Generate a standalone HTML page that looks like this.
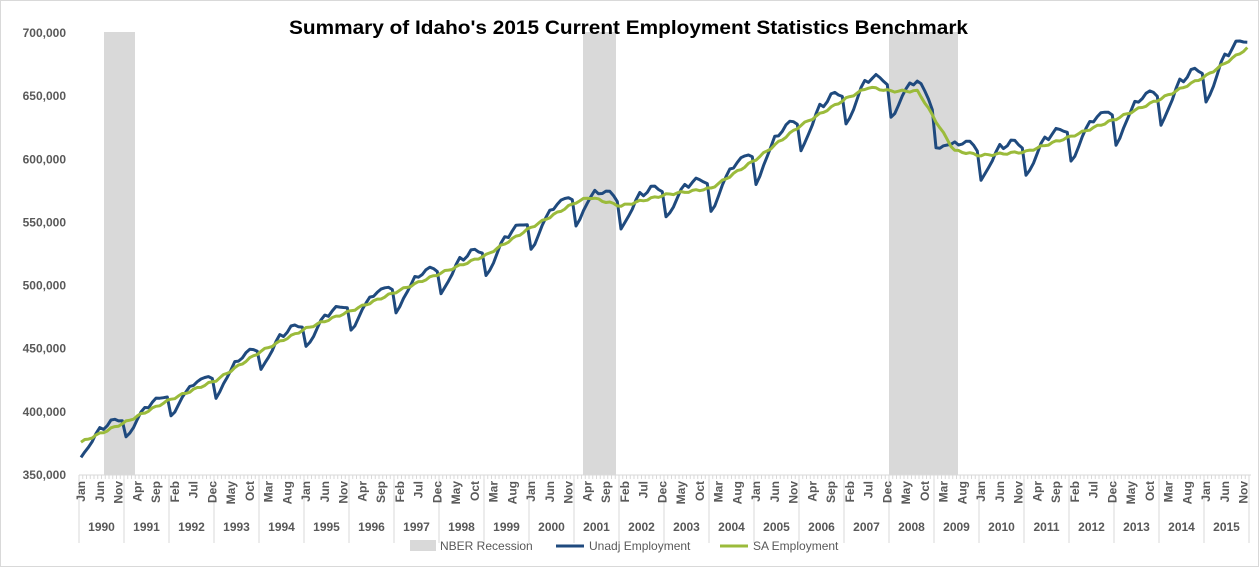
<!DOCTYPE html>
<html><head><meta charset="utf-8"><style>
html,body{margin:0;padding:0;background:#fff;}
svg{display:block;font-family:"Liberation Sans",Arial,sans-serif;}
</style></head><body>
<svg id="c" width="1259" height="567" viewBox="0 0 1259 567" xmlns="http://www.w3.org/2000/svg">
<rect x="0.5" y="0.5" width="1258" height="566" fill="#fff" stroke="#d9d9d9"/>
<g fill="#d9d9d9">
<rect x="104" y="32" width="31" height="443"/>
<rect x="583" y="32" width="33" height="443"/>
<rect x="889" y="32" width="69" height="443"/>
</g>
<text x="289" y="34" textLength="679" lengthAdjust="spacingAndGlyphs" font-size="19" font-weight="bold" fill="#000">Summary of Idaho's 2015 Current Employment Statistics Benchmark</text>
<g id="ylab" font-size="12" font-weight="bold" fill="#595959" text-anchor="end"></g>
<g id="xax"></g>
<polyline id="un" fill="none" stroke="#1f4a7e" stroke-width="3" stroke-linejoin="round"/>
<polyline id="sa" fill="none" stroke="#9bbb3b" stroke-width="3" stroke-linejoin="round"/>
<g font-size="12" fill="#595959">
<rect x="410" y="540" width="26" height="11" fill="#d9d9d9"/>
<text x="440" y="550">NBER Recession</text>
<line x1="556" y1="546" x2="584" y2="546" stroke="#1f4a7e" stroke-width="3"/>
<text x="589" y="550">Unadj Employment</text>
<line x1="720" y1="546" x2="748" y2="546" stroke="#9bbb3b" stroke-width="3"/>
<text x="753" y="550">SA Employment</text>
</g>
</svg>
<script>
var NS="http://www.w3.org/2000/svg";
function Y(v){return 475-(v-350000)*(442/350000);}
function X(m){return 81+m*3.75;}
var yl=document.getElementById('ylab');
for(var v=350000;v<=700000;v+=50000){var t=document.createElementNS(NS,'text');t.setAttribute('x',66);t.setAttribute('y',Y(v)+4);t.textContent=v.toLocaleString('en-US');yl.appendChild(t);}
var xa=document.getElementById('xax');
var h='<line x1="79" y1="475" x2="1251" y2="475" stroke="#d9d9d9"/>';
for(var m=0;m<=312;m++){var x=79+m*3.75;h+='<line x1="'+x+'" y1="475" x2="'+x+'" y2="479" stroke="#d9d9d9"/>';}
var mn=['Jan','Feb','Mar','Apr','May','Jun','Jul','Aug','Sep','Oct','Nov','Dec'];
for(var y=0;y<=26;y++){var x=79+y*45;h+='<line x1="'+x+'" y1="475" x2="'+x+'" y2="543" stroke="#d9d9d9"/>';
 if(y<26)h+='<text x="'+(x+22.5)+'" y="531" text-anchor="middle" font-size="12" font-weight="bold" fill="#595959">'+(1990+y)+'</text>';}
for(var m=0;m<312;m+=5){var x=X(m)+4;h+='<text transform="translate('+x+',481) rotate(-90)" text-anchor="end" font-size="12" font-weight="bold" fill="#595959">'+mn[m%12]+'</text>';}
xa.innerHTML=h;
var A=[[1990,376],[1991,392],[1992,410],[1993,425],[1994,448],[1995,466],[1996,480],[1997,495],[1998,510],[1999,524],[2000,546],[2001,566],[2001.3,570],[2002,563],[2003,572],[2004,577],[2005,600],[2006,627],[2007,648],[2007.5,657],[2008,654],[2008.6,654],[2009,630],[2009.4,607],[2010,603],[2011,606],[2012,618],[2013,632],[2014,648],[2015,666],[2015.92,688]];
function sa(t){for(var i=0;i<A.length-1;i++){if(t<=A[i+1][0]){var f=(t-A[i][0])/(A[i+1][0]-A[i][0]);return (A[i][1]+f*(A[i+1][1]-A[i][1]))*1000;}}return A[A.length-1][1]*1000;}
var S=[-0.032,-0.026,-0.017,-0.007,0.003,0.011,0.007,0.011,0.016,0.015,0.011,0.006];
var p1='',p2='';
for(var m=0;m<312;m++){var t=1990+m/12;var s=sa(t)+Math.sin(m*1.7)*800;var u=s*(1+S[m%12]);
p2+=X(m).toFixed(1)+','+Y(s).toFixed(1)+' ';p1+=X(m).toFixed(1)+','+Y(u).toFixed(1)+' ';}
document.getElementById('un').setAttribute('points',p1);
document.getElementById('sa').setAttribute('points',p2);
</script>
</body></html>
